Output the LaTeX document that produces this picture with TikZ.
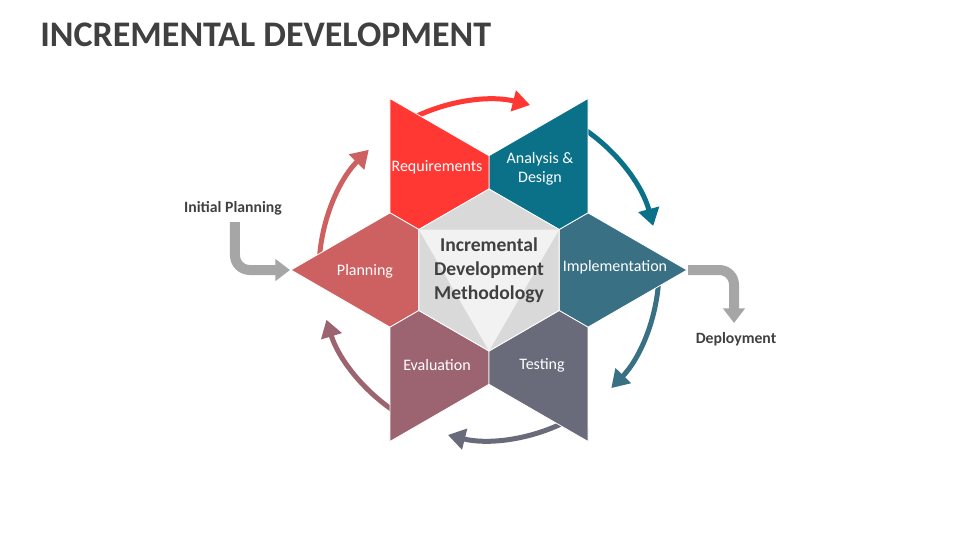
\documentclass[tikz,border=0pt]{standalone}
\usepackage{fontspec}
\setmainfont{Carlito}
\usetikzlibrary{arrows.meta}
\definecolor{cReq}{HTML}{FF3833}
\definecolor{cAna}{HTML}{0B7189}
\definecolor{cImp}{HTML}{3A7083}
\definecolor{cTes}{HTML}{696B7B}
\definecolor{cEva}{HTML}{9B6470}
\definecolor{cPla}{HTML}{CD6061}
\definecolor{cHex}{HTML}{D9D9D9}
\definecolor{cTri}{HTML}{F2F2F2}
\definecolor{cTxt}{HTML}{404040}
\definecolor{cGray}{HTML}{A6A6A6}
\tikzset{
  piece/.style={draw=white, line width=0.6pt},
  plabel/.style={text=white, align=center, font=\fontsize{12}{14.5}\selectfont},
  sidelabel/.style={text=cTxt, font=\bfseries\fontsize{11.8}{14}\selectfont},
  cyc/.style={line width=3.75pt, -{Triangle[width=15.5pt,length=13pt]}},
  grayarrow/.style={cGray, line width=7.5pt, rounded corners=11pt, -{Triangle[width=16pt,length=11pt]}}
}
\begin{document}
\begin{tikzpicture}[x=0.75pt,y=0.75pt]
\useasboundingbox (-489,-270) rectangle (471,270);
\foreach \k in {0,...,5} {
  \coordinate (T\k) at (60*\k:198);
  \coordinate (I\k) at (60*\k+30:114.3);
  \coordinate (H\k) at (60*\k+30:81);
}
% cycle arrows (behind pieces)
\draw[cyc, cReq] (117:170) arc[start angle=117, end angle=76, radius=170];
\draw[cyc, cAna] (57:170) arc[start angle=57, end angle=15, radius=170];
\draw[cyc, cImp] (-3:170) arc[start angle=-3, end angle=-44, radius=170];
\draw[cyc, cTes] (-63:170) arc[start angle=-63, end angle=-104, radius=170];
\draw[cyc, cEva] (-123:170) arc[start angle=-123, end angle=-163, radius=170];
\draw[cyc, cPla] (177:170) arc[start angle=177, end angle=135, radius=170];
% pieces
\fill[cImp, piece] (I5) -- (T0) -- (I0) -- (H0) -- (H5) -- cycle;
\fill[cAna, piece] (I0) -- (T1) -- (I1) -- (H1) -- (H0) -- cycle;
\fill[cReq, piece] (I1) -- (T2) -- (I2) -- (H2) -- (H1) -- cycle;
\fill[cPla, piece] (I2) -- (T3) -- (I3) -- (H3) -- (H2) -- cycle;
\fill[cEva, piece] (I3) -- (T4) -- (I4) -- (H4) -- (H3) -- cycle;
\fill[cTes, piece] (I4) -- (T5) -- (I5) -- (H5) -- (H4) -- cycle;
% center hexagon
\fill[cHex, piece] (H0) -- (H1) -- (H2) -- (H3) -- (H4) -- (H5) -- cycle;
\fill[cTri] (H2) -- (H0) -- (H4) -- cycle;
% labels
\node[plabel] (req) at (-52,103) {Requirements};
\node[plabel] (ana) at (51,101) {Analysis \&\\Design};
\node[plabel] (imp) at (126,3) {Implementation};
\node[plabel] (tes) at (53,-95) {Testing};
\node[plabel] (eva) at (-52,-95) {Evaluation};
\node[plabel] (pla) at (-124,-1) {Planning};
\node[text=cTxt, align=center, font=\bfseries\fontsize{14.7}{18}\selectfont] (ctr) at (0,0) {Incremental\\Development\\Methodology};
% title
\node[anchor=west, text=cTxt, font=\bfseries\fontsize{27}{30}\selectfont, inner sep=0pt] (title) at (-449,235) {INCREMENTAL DEVELOPMENT};
% side labels and gray arrows
\node[sidelabel] (init) at (-256,62) {Initial Planning};
\node[sidelabel] (dep) at (247,-69) {Deployment};
\coordinate (initstart) at (-254,48);
\coordinate (initbend) at (-254,0);
\coordinate (initend) at (-199,0);
\draw[grayarrow] (initstart) -- (initbend) -- (initend);
\coordinate (depstart) at (199,0);
\coordinate (depbend) at (245,0);
\coordinate (depend) at (245,-53);
\draw[grayarrow] (depstart) -- (depbend) -- (depend);
\end{tikzpicture}
\end{document}
